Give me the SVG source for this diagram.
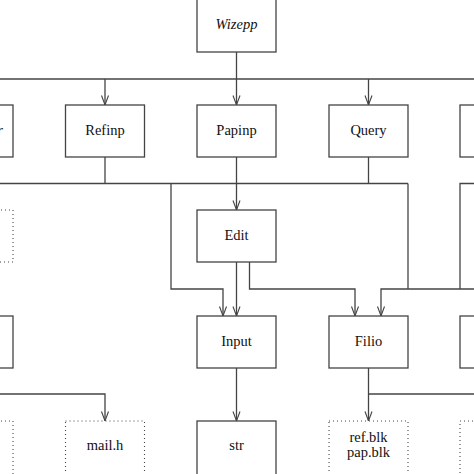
<svg xmlns="http://www.w3.org/2000/svg" width="474" height="474" viewBox="0 0 474 474">
<defs>
<marker id="arr" markerWidth="12" markerHeight="10" viewBox="-11 -5 12 10" refX="0" refY="0" markerUnits="userSpaceOnUse" orient="auto" overflow="visible">
<path d="M-9.5,-3.5 L0,0 L-9.5,3.5" fill="none" stroke="#444" stroke-width="1.1"/>
</marker>
<style>
.box{fill:#fff;stroke:#444;stroke-width:1.3}
.dot{fill:#fff;stroke:#444;stroke-width:1.1;stroke-dasharray:1 3}
.lbl{font-family:"Liberation Serif","Times New Roman",serif;font-size:14.5px;fill:#111;text-anchor:middle}
.it{font-style:italic}
.ln{fill:none;stroke:#444;stroke-width:1.3}
.ar{marker-end:url(#arr)}
</style>
</defs>
<rect width="474" height="474" fill="#fff"/>
<g id="connectors">
<path class="ln" d="M0,79 H474"/>
<path class="ln ar" d="M236.5,52 V105"/>
<path class="ln ar" d="M105,79 V105"/>
<path class="ln ar" d="M368.5,79 V105"/>
<path class="ln" d="M0,183.5 H408"/>
<path class="ln" d="M105,157 V183.5"/>
<path class="ln" d="M368.5,157 V183.5"/>
<path class="ln ar" d="M236.5,157 V210"/>
<path class="ln ar" d="M171,183.5 V289 H223 V316"/>
<path class="ln" d="M408,183.5 V289"/>
<path class="ln" d="M474,183.5 H460 V289"/>
<path class="ln ar" d="M474,289 H381 V316"/>
<path class="ln ar" d="M236.5,262 V316"/>
<path class="ln ar" d="M249.5,262 V289 H355 V316"/>
<path class="ln ar" d="M236.5,368 V421"/>
<path class="ln ar" d="M368.5,368 V421"/>
<path class="ln" d="M368.5,394 H474"/>
<path class="ln ar" d="M0,394 H105 V421"/>
</g>
<g id="wizepp"><rect class="box" x="197" y="-2" width="79" height="54"/><text class="lbl it" x="236.5" y="29">Wizepp</text></g>
<g id="left1"><rect class="box" x="-67" y="105" width="80" height="52"/><text class="lbl it" x="3" y="134.5" style="text-anchor:end">r</text></g>
<g id="refinp"><rect class="box" x="65.5" y="105" width="79" height="52"/><text class="lbl" x="105" y="134.5">Refinp</text></g>
<g id="papinp"><rect class="box" x="197" y="105" width="79" height="52"/><text class="lbl" x="236.5" y="134.5">Papinp</text></g>
<g id="query"><rect class="box" x="329" y="105" width="79" height="52"/><text class="lbl" x="368.5" y="134.5">Query</text></g>
<g id="right1"><rect class="box" x="460" y="105" width="80" height="52"/></g>
<g id="left2"><rect class="dot" x="-67" y="210" width="80" height="52"/></g>
<g id="edit"><rect class="box" x="197" y="210" width="79" height="52"/><text class="lbl" x="236.5" y="240">Edit</text></g>
<g id="left3"><rect class="box" x="-67" y="316" width="80" height="52"/></g>
<g id="input"><rect class="box" x="197" y="316" width="79" height="52"/><text class="lbl" x="236.5" y="345.5">Input</text></g>
<g id="filio"><rect class="box" x="329" y="316" width="79" height="52"/><text class="lbl" x="368.5" y="345.5">Filio</text></g>
<g id="right3"><rect class="box" x="460" y="316" width="80" height="52"/></g>
<g id="left4"><rect class="dot" x="-67" y="421" width="80" height="54"/></g>
<g id="mailh"><rect class="dot" x="65.5" y="421" width="79" height="54"/><text class="lbl" x="105" y="450">mail.h</text></g>
<g id="str"><rect class="box" x="197" y="421" width="79" height="54"/><text class="lbl" x="236.5" y="450">str</text></g>
<g id="blk"><rect class="dot" x="329" y="421" width="79" height="54"/><text class="lbl" x="368.5" y="442">ref.blk</text><text class="lbl" x="368.5" y="457">pap.blk</text></g>
<g id="right4"><rect class="dot" x="460" y="421" width="80" height="54"/></g>
</svg>
